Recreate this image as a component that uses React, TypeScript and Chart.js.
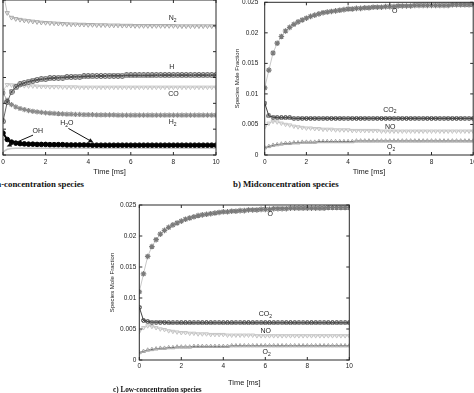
import React, { useEffect, useRef } from 'react';
import { Chart, registerables } from 'chart.js';
Chart.register(...registerables);

const FONT = '"Liberation Sans", Arial, Helvetica, sans-serif';

// ---------- data ----------
const time = [0, 0.2, 0.4, 0.6, 0.8, 1, 1.2, 1.4, 1.6, 1.8, 2, 2.2, 2.4, 2.6, 2.8, 3, 3.2, 3.4, 3.6, 3.8, 4, 4.2, 4.4, 4.6, 4.8, 5, 5.2, 5.4, 5.6, 5.8, 6, 6.2, 6.4, 6.6, 6.8, 7, 7.2, 7.4, 7.6, 7.8, 8, 8.2, 8.4, 8.6, 8.8, 9, 9.2, 9.4, 9.6, 9.8, 10];
const xTickLabels = ['0', '2', '4', '6', '8', '10'];

// a) high-concentration species
const n2 = [0.63, 0.55, 0.532, 0.527, 0.524, 0.521, 0.519, 0.517, 0.515, 0.513, 0.512, 0.511, 0.51, 0.509, 0.508, 0.507, 0.506, 0.506, 0.505, 0.505, 0.504, 0.504, 0.503, 0.503, 0.503, 0.502, 0.502, 0.502, 0.501, 0.501, 0.501, 0.5, 0.5, 0.5, 0.5, 0.5, 0.5, 0.5, 0.5, 0.5, 0.5, 0.499, 0.499, 0.499, 0.499, 0.499, 0.499, 0.499, 0.499, 0.499, 0.499];
const hAtom = [0.13, 0.205, 0.245, 0.262, 0.273, 0.279, 0.284, 0.288, 0.291, 0.293, 0.295, 0.297, 0.298, 0.299, 0.3, 0.301, 0.302, 0.303, 0.303, 0.304, 0.305, 0.305, 0.306, 0.306, 0.306, 0.307, 0.307, 0.307, 0.307, 0.308, 0.308, 0.308, 0.308, 0.308, 0.308, 0.308, 0.309, 0.309, 0.309, 0.309, 0.309, 0.309, 0.309, 0.309, 0.309, 0.309, 0.309, 0.309, 0.309, 0.309, 0.309];
const co = [0.25, 0.272, 0.271, 0.27, 0.269, 0.268, 0.267, 0.267, 0.266, 0.265, 0.265, 0.264, 0.264, 0.264, 0.263, 0.263, 0.263, 0.263, 0.262, 0.262, 0.262, 0.262, 0.262, 0.262, 0.262, 0.262, 0.262, 0.262, 0.262, 0.262, 0.262, 0.262, 0.262, 0.262, 0.262, 0.262, 0.262, 0.262, 0.262, 0.262, 0.262, 0.262, 0.262, 0.262, 0.262, 0.262, 0.262, 0.262, 0.262, 0.262, 0.262];
const h2 = [0.24, 0.212, 0.195, 0.186, 0.18, 0.176, 0.172, 0.169, 0.167, 0.165, 0.163, 0.162, 0.161, 0.16, 0.159, 0.158, 0.158, 0.157, 0.157, 0.156, 0.156, 0.156, 0.155, 0.155, 0.155, 0.155, 0.155, 0.154, 0.154, 0.154, 0.154, 0.154, 0.154, 0.154, 0.154, 0.154, 0.154, 0.154, 0.154, 0.154, 0.154, 0.154, 0.154, 0.154, 0.154, 0.154, 0.154, 0.154, 0.154, 0.154, 0.154];
const h2o = [0.085, 0.06, 0.05, 0.046, 0.044, 0.043, 0.042, 0.042, 0.041, 0.041, 0.041, 0.04, 0.04, 0.04, 0.04, 0.039, 0.039, 0.039, 0.039, 0.039, 0.039, 0.038, 0.038, 0.038, 0.038, 0.038, 0.038, 0.038, 0.038, 0.038, 0.038, 0.038, 0.038, 0.038, 0.038, 0.038, 0.038, 0.038, 0.038, 0.038, 0.038, 0.038, 0.038, 0.038, 0.038, 0.038, 0.038, 0.038, 0.038, 0.038, 0.038];
const oh = [0.012, 0.022, 0.025, 0.026, 0.026, 0.026, 0.026, 0.026, 0.026, 0.026, 0.026, 0.026, 0.026, 0.026, 0.026, 0.026, 0.026, 0.026, 0.026, 0.026, 0.026, 0.026, 0.026, 0.026, 0.026, 0.026, 0.026, 0.026, 0.026, 0.026, 0.026, 0.026, 0.026, 0.026, 0.026, 0.026, 0.026, 0.026, 0.026, 0.026, 0.026, 0.026, 0.026, 0.026, 0.026, 0.026, 0.026, 0.026, 0.026, 0.026, 0.026];

// b) / c) mid- and low-concentration species
const oAtom = [0.011, 0.0139, 0.0167, 0.0183, 0.0194, 0.0203, 0.0209, 0.0214, 0.0218, 0.0221, 0.0224, 0.0227, 0.0229, 0.0231, 0.0233, 0.0234, 0.0235, 0.0236, 0.0237, 0.0238, 0.0239, 0.0239, 0.024, 0.024, 0.0241, 0.0241, 0.0242, 0.0242, 0.0242, 0.0243, 0.0243, 0.0243, 0.0244, 0.0244, 0.0244, 0.0244, 0.0245, 0.0245, 0.0245, 0.0245, 0.0245, 0.0245, 0.0245, 0.0245, 0.0245, 0.0246, 0.0246, 0.0246, 0.0246, 0.0246, 0.0246];
const co2 = [0.0085, 0.0064, 0.0062, 0.0061, 0.0061, 0.0061, 0.0061, 0.006, 0.006, 0.006, 0.006, 0.006, 0.006, 0.006, 0.006, 0.006, 0.006, 0.006, 0.006, 0.006, 0.006, 0.006, 0.006, 0.006, 0.006, 0.006, 0.006, 0.006, 0.006, 0.006, 0.006, 0.006, 0.006, 0.006, 0.006, 0.006, 0.006, 0.006, 0.006, 0.006, 0.006, 0.006, 0.006, 0.006, 0.006, 0.006, 0.006, 0.006, 0.006, 0.006, 0.006];
const no = [0.0046, 0.0052, 0.0055, 0.0054, 0.0052, 0.005, 0.0049, 0.0047, 0.0046, 0.0045, 0.0044, 0.0044, 0.0043, 0.0043, 0.0042, 0.0042, 0.0042, 0.0041, 0.0041, 0.0041, 0.0041, 0.004, 0.004, 0.004, 0.004, 0.004, 0.004, 0.004, 0.0039, 0.0039, 0.0039, 0.0039, 0.0039, 0.0039, 0.0039, 0.0039, 0.0039, 0.0039, 0.0039, 0.0039, 0.0039, 0.0039, 0.0039, 0.0039, 0.0039, 0.0039, 0.0039, 0.0039, 0.0039, 0.0039, 0.0039];
const o2 = [0.0012, 0.0014, 0.0016, 0.0017, 0.0018, 0.0019, 0.0019, 0.002, 0.002, 0.0021, 0.0021, 0.0021, 0.0021, 0.0022, 0.0022, 0.0022, 0.0022, 0.0022, 0.0022, 0.0022, 0.0022, 0.0022, 0.0023, 0.0023, 0.0023, 0.0023, 0.0023, 0.0023, 0.0023, 0.0023, 0.0023, 0.0023, 0.0023, 0.0023, 0.0023, 0.0023, 0.0023, 0.0023, 0.0023, 0.0023, 0.0023, 0.0023, 0.0023, 0.0023, 0.0023, 0.0023, 0.0023, 0.0023, 0.0023, 0.0023, 0.0023];
const yTickLabelsBC = ['0', '0.005', '0.01', '0.015', '0.02', '0.025'];

// in-plot species labels (data coordinates; "_" marks a subscript digit)
const labelsA = [
  { text: 'N_2', t: 7.96, v: 0.529 },
  { text: 'H', t: 7.92, v: 0.342 },
  { text: 'CO', t: 8.0, v: 0.235 },
  { text: 'H_2', t: 7.96, v: 0.127 },
  { text: 'OH', t: 1.63, v: 0.093 },
  { text: 'H_2O', t: 3.0, v: 0.123 },
];
const arrowsA = [
  { t1: 1.41, v1: 0.077, t2: 0.17, v2: 0.033 },
  { t1: 3.07, v1: 0.103, t2: 4.25, v2: 0.048 },
];
const labelsBC = [
  { text: 'O', t: 6.24, v: 0.0235 },
  { text: 'CO_2', t: 6.0, v: 0.0074 },
  { text: 'NO', t: 6.02, v: 0.0046 },
  { text: 'O_2', t: 6.06, v: 0.0013 },
];

const captionA = 'a) High-concentration species';
const captionB = 'b) Midconcentration species';
const captionC = 'c) Low-concentration species';

// ---------- helpers ----------
function ringCross(size: number, color: string) {
  const c = document.createElement('canvas');
  c.width = size;
  c.height = size;
  const g = c.getContext('2d')!;
  g.strokeStyle = color;
  g.lineWidth = 1;
  const m = size / 2;
  const r = m - 0.6;
  g.beginPath();
  g.arc(m, m, r, 0, Math.PI * 2);
  g.stroke();
  const d = r * 0.72;
  g.beginPath();
  g.moveTo(m - d, m - d);
  g.lineTo(m + d, m + d);
  g.moveTo(m + d, m - d);
  g.lineTo(m - d, m + d);
  g.stroke();
  return c;
}

function series(vals: number[]) {
  return time.map((t, i) => ({ x: t, y: vals[i] }));
}

function drawLabel(ctx: CanvasRenderingContext2D, text: string, x: number, y: number) {
  const parts: { s: string; sub: boolean }[] = [];
  for (let i = 0; i < text.length; i++) {
    if (text[i] === '_') { parts.push({ s: text[i + 1], sub: true }); i++; }
    else parts.push({ s: text[i], sub: false });
  }
  const big = `7px ${FONT}`;
  const small = `5px ${FONT}`;
  let w = 0;
  parts.forEach((p) => { ctx.font = p.sub ? small : big; w += ctx.measureText(p.s).width; });
  let cx = x - w / 2;
  ctx.fillStyle = '#1e1e1e';
  ctx.textBaseline = 'middle';
  ctx.textAlign = 'left';
  parts.forEach((p) => {
    ctx.font = p.sub ? small : big;
    ctx.fillText(p.s, cx, p.sub ? y + 2.2 : y);
    cx += ctx.measureText(p.s).width;
  });
}

function makeDecor(labels: { text: string; t: number; v: number }[], arrows: { t1: number; v1: number; t2: number; v2: number }[]) {
  return {
    id: 'decor',
    afterDatasetsDraw(chart: any) {
      const { ctx, chartArea: a } = chart;
      const xs = chart.scales.x;
      const ys = chart.scales.y;
      ctx.save();
      ctx.strokeStyle = '#2a2a2a';
      ctx.lineWidth = 1;
      const T = 3;
      ctx.beginPath();
      xs.ticks.forEach((tk: any) => {
        const p = xs.getPixelForValue(tk.value);
        ctx.moveTo(p, a.bottom); ctx.lineTo(p, a.bottom - T);
        ctx.moveTo(p, a.top); ctx.lineTo(p, a.top + T);
      });
      ys.ticks.forEach((tk: any) => {
        const p = ys.getPixelForValue(tk.value);
        ctx.moveTo(a.left, p); ctx.lineTo(a.left + T, p);
        ctx.moveTo(a.right, p); ctx.lineTo(a.right - T, p);
      });
      ctx.stroke();
      ctx.strokeRect(a.left, a.top, a.right - a.left, a.bottom - a.top);

      labels.forEach((l) => drawLabel(ctx, l.text, xs.getPixelForValue(l.t), ys.getPixelForValue(l.v)));

      ctx.strokeStyle = '#111';
      ctx.fillStyle = '#111';
      arrows.forEach((ar) => {
        const x1 = xs.getPixelForValue(ar.t1), y1 = ys.getPixelForValue(ar.v1);
        const x2 = xs.getPixelForValue(ar.t2), y2 = ys.getPixelForValue(ar.v2);
        const ang = Math.atan2(y2 - y1, x2 - x1);
        const hl = 5, hw = 2.2;
        ctx.beginPath();
        ctx.moveTo(x1, y1);
        ctx.lineTo(x2 - Math.cos(ang) * hl * 0.8, y2 - Math.sin(ang) * hl * 0.8);
        ctx.stroke();
        ctx.beginPath();
        ctx.moveTo(x2, y2);
        ctx.lineTo(x2 - Math.cos(ang) * hl - Math.sin(ang) * hw, y2 - Math.sin(ang) * hl + Math.cos(ang) * hw);
        ctx.lineTo(x2 - Math.cos(ang) * hl + Math.sin(ang) * hw, y2 - Math.sin(ang) * hl - Math.cos(ang) * hw);
        ctx.closePath();
        ctx.fill();
      });
      ctx.restore();
    },
  };
}

type PanelOpts = {
  datasets: any[];
  yMax: number;
  yStep: number;
  yLabels: string[] | null;
  yTitle: string | null;
  yWidth: number;
  yTickPad: number;
  yTitlePad: number;
  xTickPad: number;
  xHeight: number;
  padding: { left: number; right: number; top: number; bottom: number };
  labels: { text: string; t: number; v: number }[];
  arrows: { t1: number; v1: number; t2: number; v2: number }[];
};

function build(canvas: HTMLCanvasElement, p: PanelOpts) {
  return new Chart(canvas, {
    type: 'line',
    data: { datasets: p.datasets },
    options: {
      animation: false,
      responsive: false,
      devicePixelRatio: 1,
      events: [],
      layout: { padding: p.padding },
      elements: { line: { tension: 0 } },
      plugins: { legend: { display: false }, tooltip: { enabled: false } },
      scales: {
        x: {
          type: 'linear',
          min: 0,
          max: 10,
          grid: { display: false, drawTicks: false },
          border: { display: false },
          ticks: {
            stepSize: 2,
            autoSkip: false,
            maxRotation: 0,
            padding: p.xTickPad,
            color: '#222',
            font: { size: 6.5, family: FONT },
            callback: (v: any) => xTickLabels[Math.round(Number(v) / 2)],
          },
          title: { display: true, text: 'Time [ms]', color: '#222', font: { size: 7.5, family: FONT }, padding: { top: 0, bottom: 0 } },
          afterFit: (s: any) => { s.height = p.xHeight; },
        },
        y: {
          type: 'linear',
          min: 0,
          max: p.yMax,
          grid: { display: false, drawTicks: false },
          border: { display: false },
          ticks: {
            display: !!p.yLabels,
            stepSize: p.yStep,
            autoSkip: false,
            padding: p.yTickPad,
            color: '#222',
            font: { size: 6.5, family: FONT },
            callback: (v: any) => (p.yLabels ? p.yLabels[Math.round(Number(v) / p.yStep)] : ''),
          },
          title: {
            display: !!p.yTitle,
            text: p.yTitle || '',
            color: '#222',
            font: { size: 6, family: FONT },
            padding: { top: p.yTitlePad, bottom: 0 },
          },
          afterFit: (s: any) => { s.width = p.yWidth; },
        },
      },
    } as any,
    plugins: [makeDecor(p.labels, p.arrows) as any],
  });
}

function datasetsA() {
  return [
    { data: series(h2o), borderColor: '#000', borderWidth: 2, pointStyle: 'circle', pointRadius: 2.3, pointBackgroundColor: '#000', pointBorderColor: '#000', pointBorderWidth: 1 },
    { data: series(hAtom), borderColor: '#6a6a6a', borderWidth: 1, pointStyle: ringCross(6, '#4a4a4a'), pointRadius: 3 },
    { data: series(h2), borderColor: '#b0b0b0', borderWidth: 1, pointStyle: 'star', pointRadius: 2.6, pointBorderColor: '#8a8a8a', pointBorderWidth: 1.1, pointBackgroundColor: 'rgba(0,0,0,0)' },
    { data: series(n2), borderColor: '#c4c4c4', borderWidth: 1, pointStyle: 'triangle', pointRotation: 180, pointRadius: 2.5, pointBorderColor: '#a8a8a8', pointBorderWidth: 1, pointBackgroundColor: 'rgba(0,0,0,0)' },
    { data: series(co), borderColor: '#d4d4d4', borderWidth: 1, pointStyle: 'triangle', pointRotation: 180, pointRadius: 2.4, pointBorderColor: '#c4c4c4', pointBorderWidth: 1, pointBackgroundColor: 'rgba(0,0,0,0)' },
    { data: series(oh), borderColor: '#c8c8c8', borderWidth: 1.5, pointRadius: 0 },
  ];
}

function datasetsBC() {
  return [
    { data: series(co2), borderColor: '#444', borderWidth: 1, pointStyle: ringCross(5, '#3a3a3a'), pointRadius: 2.5 },
    { data: series(oAtom), borderColor: '#c8c8c8', borderWidth: 1, pointStyle: 'star', pointRadius: 2.8, pointBorderColor: '#7a7a7a', pointBorderWidth: 1.2, pointBackgroundColor: 'rgba(0,0,0,0)' },
    { data: series(o2), borderColor: '#5a5a5a', borderWidth: 1, pointStyle: 'triangle', pointRadius: 2.3, pointBorderColor: '#a6a6a6', pointBorderWidth: 1, pointBackgroundColor: 'rgba(0,0,0,0)' },
    { data: series(no), borderColor: '#d6d6d6', borderWidth: 1, pointStyle: 'triangle', pointRotation: 180, pointRadius: 2.3, pointBorderColor: '#c4c4c4', pointBorderWidth: 1, pointBackgroundColor: 'rgba(0,0,0,0)' },
  ];
}

export default function App() {
  const refA = useRef<HTMLCanvasElement>(null);
  const refB = useRef<HTMLCanvasElement>(null);
  const refC = useRef<HTMLCanvasElement>(null);

  useEffect(() => {
    const charts: Chart[] = [];
    if (refA.current) {
      charts.push(build(refA.current, {
        datasets: datasetsA(), yMax: 0.6, yStep: 0.1, yLabels: null, yTitle: null,
        yWidth: 23, yTickPad: 4, yTitlePad: 0, xTickPad: 3.4, xHeight: 21,
        padding: { left: 0, right: 8, top: 8, bottom: 0 }, labels: labelsA, arrows: arrowsA,
      }));
    }
    if (refB.current) {
      charts.push(build(refB.current, {
        datasets: datasetsBC(), yMax: 0.025, yStep: 0.005, yLabels: yTickLabelsBC, yTitle: 'Species Mole Fraction',
        yWidth: 36.7, yTickPad: 6.4, yTitlePad: 5.7, xTickPad: 3.4, xHeight: 21,
        padding: { left: 0, right: 8.8, top: 8, bottom: 0 }, labels: labelsBC, arrows: [],
      }));
    }
    if (refC.current) {
      charts.push(build(refC.current, {
        datasets: datasetsBC(), yMax: 0.025, yStep: 0.005, yLabels: yTickLabelsBC, yTitle: 'Species Mole Fraction',
        yWidth: 39.3, yTickPad: 3, yTitlePad: 9.1, xTickPad: 2.8, xHeight: 27,
        padding: { left: 0, right: 10.7, top: 15, bottom: 0 }, labels: labelsBC, arrows: [],
      }));
    }
    return () => charts.forEach((c) => c.destroy());
  }, []);

  const cap: React.CSSProperties = {
    position: 'absolute', fontFamily: '"Liberation Serif", "Times New Roman", serif', fontWeight: 'bold',
    whiteSpace: 'nowrap', lineHeight: 1, color: '#111',
  };

  return (
    <div style={{ position: 'fixed', left: 0, top: 0, width: 474, height: 393, overflow: 'hidden', background: '#fff' }}>
      <canvas ref={refA} width={244} height={184} style={{ position: 'absolute', left: -20, top: -8, width: 244, height: 184 }} />
      <canvas ref={refB} width={254} height={184} style={{ position: 'absolute', left: 228, top: -8, width: 254, height: 184 }} />
      <canvas ref={refC} width={260} height={197} style={{ position: 'absolute', left: 100, top: 190, width: 260, height: 197 }} />
      <div style={{ ...cap, right: 474 - 84, top: 179.6, fontSize: 8.8 }}>{captionA}</div>
      <div style={{ ...cap, left: 233, top: 179.6, fontSize: 8.8 }}>{captionB}</div>
      <div style={{ ...cap, left: 113, top: 387.4, fontSize: 7.2 }}>{captionC}</div>
    </div>
  );
}
